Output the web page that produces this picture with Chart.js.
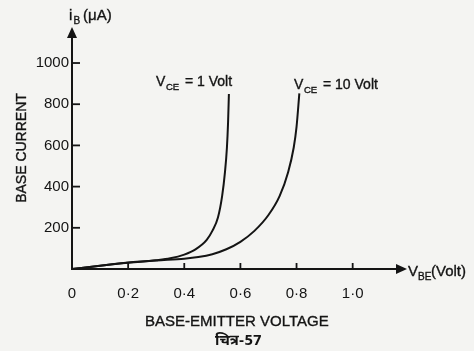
<!DOCTYPE html>
<html>
<head>
<meta charset="utf-8">
<script src="https://cdn.jsdelivr.net/npm/chart.js@4.4.1/dist/chart.umd.min.js"></script>
<style>
  html, body { margin: 0; padding: 0; background: #f4f4f2; }
  #c { display: block; }
</style>
</head>
<body>
<canvas id="c" width="474" height="351"></canvas>
<script>
// ---- data ----
const xTickValues = [0, 0.2, 0.4, 0.6, 0.8, 1.0];
const xTickLabels = ['0', '0·2', '0·4', '0·6', '0·8', '1·0'];
const yTickValues = [200, 400, 600, 800, 1000];
const yTickLabels = ['200', '400', '600', '800', '1000'];

// V_CE = 1 Volt
const vbe1 = [0, 0.1, 0.2, 0.3, 0.35, 0.4, 0.44, 0.48, 0.5, 0.52, 0.535, 0.545, 0.552, 0.556, 0.559];
const ib1  = [0, 16, 31, 43, 52, 70, 95, 141, 185, 250, 355, 470, 590, 710, 850];

// V_CE = 10 Volt
const vbe10 = [0, 0.1, 0.2, 0.3, 0.4, 0.45, 0.5, 0.55, 0.6, 0.65, 0.7, 0.74, 0.77, 0.79, 0.8, 0.81];
const ib10  = [0, 16, 30, 41, 50, 58, 72, 96, 132, 185, 262, 355, 470, 590, 690, 853];

const ink = '#141414';

const pts = (xs, ys) => xs.map((x, i) => ({ x: x, y: ys[i] }));

const decor = {
  id: 'decor',
  beforeDraw(chart) {
    const ctx = chart.ctx;
    ctx.save();
    ctx.fillStyle = '#f4f4f2';
    ctx.fillRect(0, 0, chart.width, chart.height);
    ctx.restore();
  },
  afterDraw(chart) {
    const ctx = chart.ctx;
    const xs = chart.scales.x, ys = chart.scales.y;
    const x0 = xs.getPixelForValue(0);
    const y0 = ys.getPixelForValue(0);
    const top = chart.chartArea.top;
    const right = chart.chartArea.right;
    ctx.save();
    ctx.strokeStyle = ink;
    ctx.fillStyle = ink;
    ctx.lineWidth = 2;
    // y axis with arrow
    ctx.beginPath();
    ctx.moveTo(x0, y0 + 1);
    ctx.lineTo(x0, top + 8);
    ctx.stroke();
    ctx.beginPath();
    ctx.moveTo(x0, top - 1);
    ctx.lineTo(x0 - 5, top + 10);
    ctx.lineTo(x0 + 5, top + 10);
    ctx.closePath();
    ctx.fill();
    // x axis with arrow
    ctx.beginPath();
    ctx.moveTo(x0 - 1, y0);
    ctx.lineTo(right - 8, y0);
    ctx.stroke();
    ctx.beginPath();
    ctx.moveTo(right + 1, y0);
    ctx.lineTo(right - 10, y0 - 5);
    ctx.lineTo(right - 10, y0 + 5);
    ctx.closePath();
    ctx.fill();
    // ticks (inward)
    ctx.lineWidth = 1.8;
    xTickValues.forEach(v => {
      if (v === 0) return;
      const px = xs.getPixelForValue(v);
      ctx.beginPath();
      ctx.moveTo(px, y0);
      ctx.lineTo(px, y0 - 6);
      ctx.stroke();
    });
    yTickValues.forEach(v => {
      const py = ys.getPixelForValue(v);
      ctx.beginPath();
      ctx.moveTo(x0, py);
      ctx.lineTo(x0 + 8, py);
      ctx.stroke();
    });

    // texts
    const f = (size, w) => (w || '') + ' ' + size + 'px "Liberation Sans", Arial, sans-serif';
    ctx.textBaseline = 'alphabetic';
    ctx.textAlign = 'left';
    ctx.lineWidth = 0.35;
    const t = (s, x, y) => { ctx.fillText(s, x, y); ctx.strokeText(s, x, y); };
    // i_B (µA)
    ctx.font = f(15); t('i', 69, 20);
    ctx.font = f(10); t('B', 73.5, 23.5);
    ctx.font = f(15); t('(μA)', 83, 20);
    // V_CE = 1 Volt
    ctx.font = f(14); t('V', 156, 86);
    ctx.font = f(9.5); t('CE', 166, 90);
    ctx.font = f(14); t('= 1 Volt', 185, 86);
    // V_CE = 10 Volt
    ctx.font = f(14); t('V', 294, 89);
    ctx.font = f(9.5); t('CE', 304, 93);
    ctx.font = f(14); t('= 10 Volt', 323, 89);
    // V_BE (Volt)
    ctx.font = f(15); t('V', 408, 276);
    ctx.font = f(10); t('BE', 418, 280);
    ctx.font = f(15); t('(Volt)', 431, 276);
    // x title
    ctx.font = f(15); t('BASE-EMITTER VOLTAGE', 145, 326);
    // figure label
    ctx.font = 'bold 15px "Noto Sans Devanagari", "Lohit Devanagari", "Noto Sans", sans-serif';
    ctx.fillText('चित्र-57', 215, 345);
    // y title
    ctx.save();
    ctx.translate(26, 148);
    ctx.rotate(-Math.PI / 2);
    ctx.textAlign = 'center';
    ctx.font = f(14);
    t('BASE CURRENT', 0, 0);
    ctx.restore();
    ctx.restore();
  }
};

new Chart(document.getElementById('c'), {
  type: 'scatter',
  data: {
    datasets: [
      { label: 'VCE = 1 Volt', data: pts(vbe1, ib1), showLine: true, borderColor: ink, borderWidth: 2,
        pointRadius: 0, cubicInterpolationMode: 'monotone', fill: false },
      { label: 'VCE = 10 Volt', data: pts(vbe10, ib10), showLine: true, borderColor: ink, borderWidth: 2,
        pointRadius: 0, cubicInterpolationMode: 'monotone', fill: false }
    ]
  },
  options: {
    responsive: false,
    animation: false,
    devicePixelRatio: 1,
    layout: { padding: { top: 28, right: 68, left: 0, bottom: 0 } },
    plugins: { legend: { display: false }, tooltip: { enabled: false } },
    scales: {
      x: {
        type: 'linear', min: 0, max: 1.19,
        afterBuildTicks: s => { s.ticks = xTickValues.map(v => ({ value: v })); },
        afterFit: s => { s.height = 82; },
        grid: { display: false, drawTicks: false },
        border: { display: false },
        ticks: {
          autoSkip: false, maxRotation: 0, padding: 16, color: ink,
          font: { size: 15, family: '"Liberation Sans", Arial, sans-serif' },
          callback: (v, i) => xTickLabels[i]
        }
      },
      y: {
        type: 'linear', min: 0, max: 1170,
        afterBuildTicks: s => { s.ticks = yTickValues.map(v => ({ value: v })); },
        afterFit: s => { s.width = 72; },
        grid: { display: false, drawTicks: false },
        border: { display: false },
        ticks: {
          autoSkip: false, padding: 3, color: ink,
          font: { size: 15, family: '"Liberation Sans", Arial, sans-serif' },
          callback: (v, i) => yTickLabels[i]
        }
      }
    }
  },
  plugins: [decor]
});
</script>
</body>
</html>
